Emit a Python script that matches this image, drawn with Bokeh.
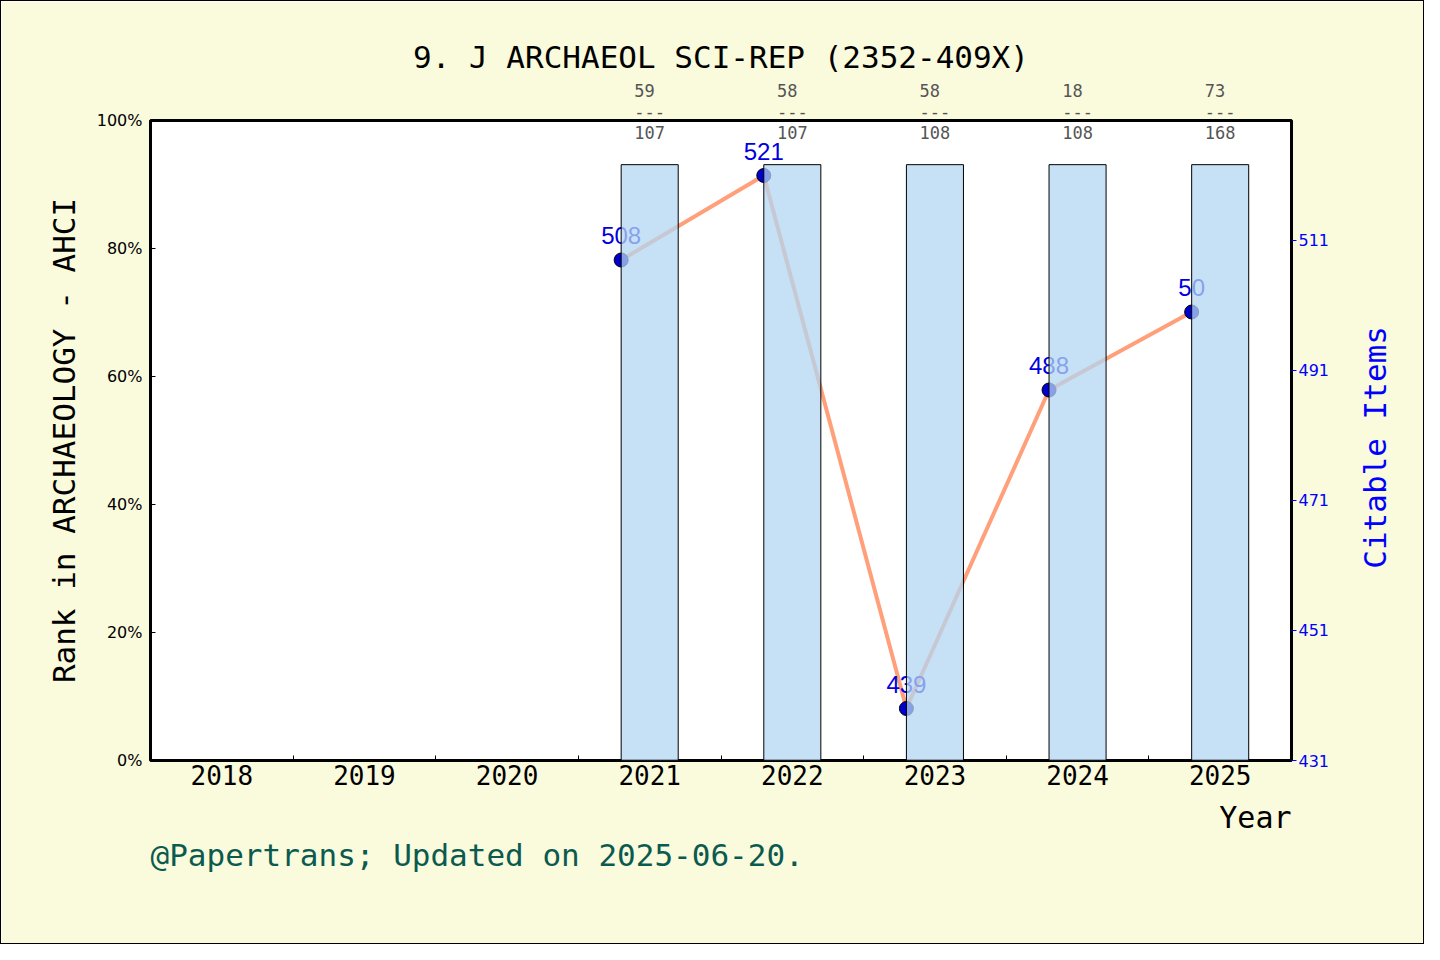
import math
from bokeh.plotting import figure
from bokeh.models import Range1d, LinearAxis, FixedTicker, ColumnDataSource, NumeralTickFormatter, Title
from bokeh.transform import dodge
from bokeh.core.properties import value
from bokeh.embed import file_html
from bokeh.resources import INLINE

# ---- data ----
years = [2018, 2019, 2020, 2021, 2022, 2023, 2024, 2025]
data_years = [2021, 2022, 2023, 2024, 2025]
citable_items = [508, 521, 439, 488, 500]
item_labels = ["508", "521", "439", "488", "50"]
rank_num = ["59", "58", "58", "18", "73"]
rank_den = ["107", "107", "108", "108", "168"]
bar_share = [0.931, 0.931, 0.931, 0.931, 0.931]
left_ticks = [0, 0.2, 0.4, 0.6, 0.8, 1.0]
right_ticks = [431, 451, 471, 491, 511]
title_text = "9. J ARCHAEOL SCI-REP (2352-409X)"
footer_text = "@Papertrans; Updated on 2025-06-20."
left_label = "Rank in ARCHAEOLOGY - AHCI"
right_label = "Citable Items"

MONO = "DejaVu Sans Mono"
BG = "#fafadc"
RIGHT_LABEL_START = 460.5   # where the rotated right-hand title begins (items scale)

p = figure(frame_width=1141, frame_height=640,
           min_border_left=149, min_border_right=132,
           min_border_top=119, min_border_bottom=183,
           x_range=Range1d(2017.5, 2025.5), y_range=Range1d(0, 1),
           output_backend="svg", toolbar_location=None, tools="")
p.background_fill_color = "white"
p.border_fill_color = BG
p.outline_line_color = "black"
p.outline_line_width = 3
p.xgrid.visible = False
p.ygrid.visible = False
p.styles = {"border": "1px solid black"}

# title
p.title.text = title_text
p.title.align = "center"
p.title.text_font = MONO
p.title.text_font_size = "31px"
p.title.text_font_style = "normal"
p.title.text_color = "black"
p.title.standoff = 8

# left axis
ya = p.yaxis[0]
ya.ticker = FixedTicker(ticks=left_ticks)
ya.formatter = NumeralTickFormatter(format="0%")
ya.axis_line_color = None
ya.major_tick_in = 5
ya.major_tick_out = 0
ya.minor_tick_line_color = None
ya.major_label_text_font = "DejaVu Sans"
ya.major_label_text_font_size = "16px"
ya.major_label_text_color = "black"
ya.major_label_standoff = 8
ya.axis_label = left_label
ya.axis_label_text_font = MONO
ya.axis_label_text_font_style = "normal"
ya.axis_label_text_font_size = "31px"
ya.axis_label_text_color = "black"
ya.axis_label_standoff = 12

# bottom axis
xa = p.xaxis[0]
xa.ticker = FixedTicker(ticks=years, minor_ticks=[y + 0.5 for y in years[:-1]])
xa.axis_line_color = None
xa.major_tick_in = 0
xa.major_tick_out = 0
xa.minor_tick_in = 5
xa.minor_tick_out = 0
xa.minor_tick_line_color = "black"
xa.major_label_text_font = MONO
xa.major_label_text_font_size = "26px"
xa.major_label_text_color = "black"
xa.major_label_standoff = 4

# top axis carrying the rank fractions above each bar
frac = {yr: f"{n.ljust(len(d), chr(160))}\n---\n{d}" for yr, n, d in zip(data_years, rank_num, rank_den)}
ta = LinearAxis(ticker=FixedTicker(ticks=data_years), major_label_overrides=frac)
ta.axis_line_color = None
ta.major_tick_in = 0
ta.major_tick_out = 0
ta.minor_tick_line_color = None
ta.major_label_text_font = MONO
ta.major_label_text_font_size = "17px"
ta.major_label_text_color = "#555555"
ta.major_label_text_line_height = 1.03
ta.major_label_standoff = -22
p.add_layout(ta, "above")

# right axis
p.extra_y_ranges = {"items": Range1d(431, 529.46)}
ra = LinearAxis(y_range_name="items", ticker=FixedTicker(ticks=right_ticks))
ra.axis_line_color = None
ra.major_tick_in = 0
ra.major_tick_out = 5
ra.major_tick_line_color = "blue"
ra.minor_tick_line_color = None
ra.major_label_text_font = "DejaVu Sans"
ra.major_label_text_font_size = "16px"
ra.major_label_text_color = "blue"
ra.major_label_standoff = 2
p.add_layout(ra, "right")

# right-hand title, reading bottom to top
rl = LinearAxis(y_range_name="items", ticker=FixedTicker(ticks=[RIGHT_LABEL_START]),
                major_label_overrides={RIGHT_LABEL_START: right_label})
rl.axis_line_color = None
rl.major_tick_in = 0
rl.major_tick_out = 0
rl.minor_tick_line_color = None
rl.major_label_orientation = math.pi / 2
rl.major_label_text_font = MONO
rl.major_label_text_font_size = "31px"
rl.major_label_text_color = "blue"
rl.major_label_standoff = 43
p.add_layout(rl, "right")

# bottom texts
p.add_layout(Title(text="Year", align="right", text_font=MONO, text_font_size="30px",
                   text_font_style="normal", text_color="black", standoff=20), "below")
p.add_layout(Title(text=footer_text, align="left", text_font=MONO, text_font_size="31px",
                   text_font_style="normal", text_color="#0b5a4f", standoff=-20), "below")

src = ColumnDataSource(dict(year=data_years, items=citable_items, label=item_labels, share=bar_share))
xp = dodge("year", -0.2, range=p.x_range)

p.line(x=xp, y="items", y_range_name="items", source=src,
       line_color="#ffa07a", line_width=4)
p.scatter(x=xp, y="items", y_range_name="items", source=src, size=14,
          fill_color="#0000cd", line_color="black", line_width=1)
p.text(x=xp, y="items", y_range_name="items", source=src, text="label",
       text_align="center", text_baseline="middle", y_offset=-24,
       text_color="#0000e0", text_font=value("Liberation Sans"), text_font_size="24px")

p.vbar(x="year", width=0.4, bottom=0, top="share", source=src,
       fill_color="#b3d6f2", fill_alpha=0.75, line_color="black", line_width=1)

open("out.html", "w").write(file_html(p, INLINE))
